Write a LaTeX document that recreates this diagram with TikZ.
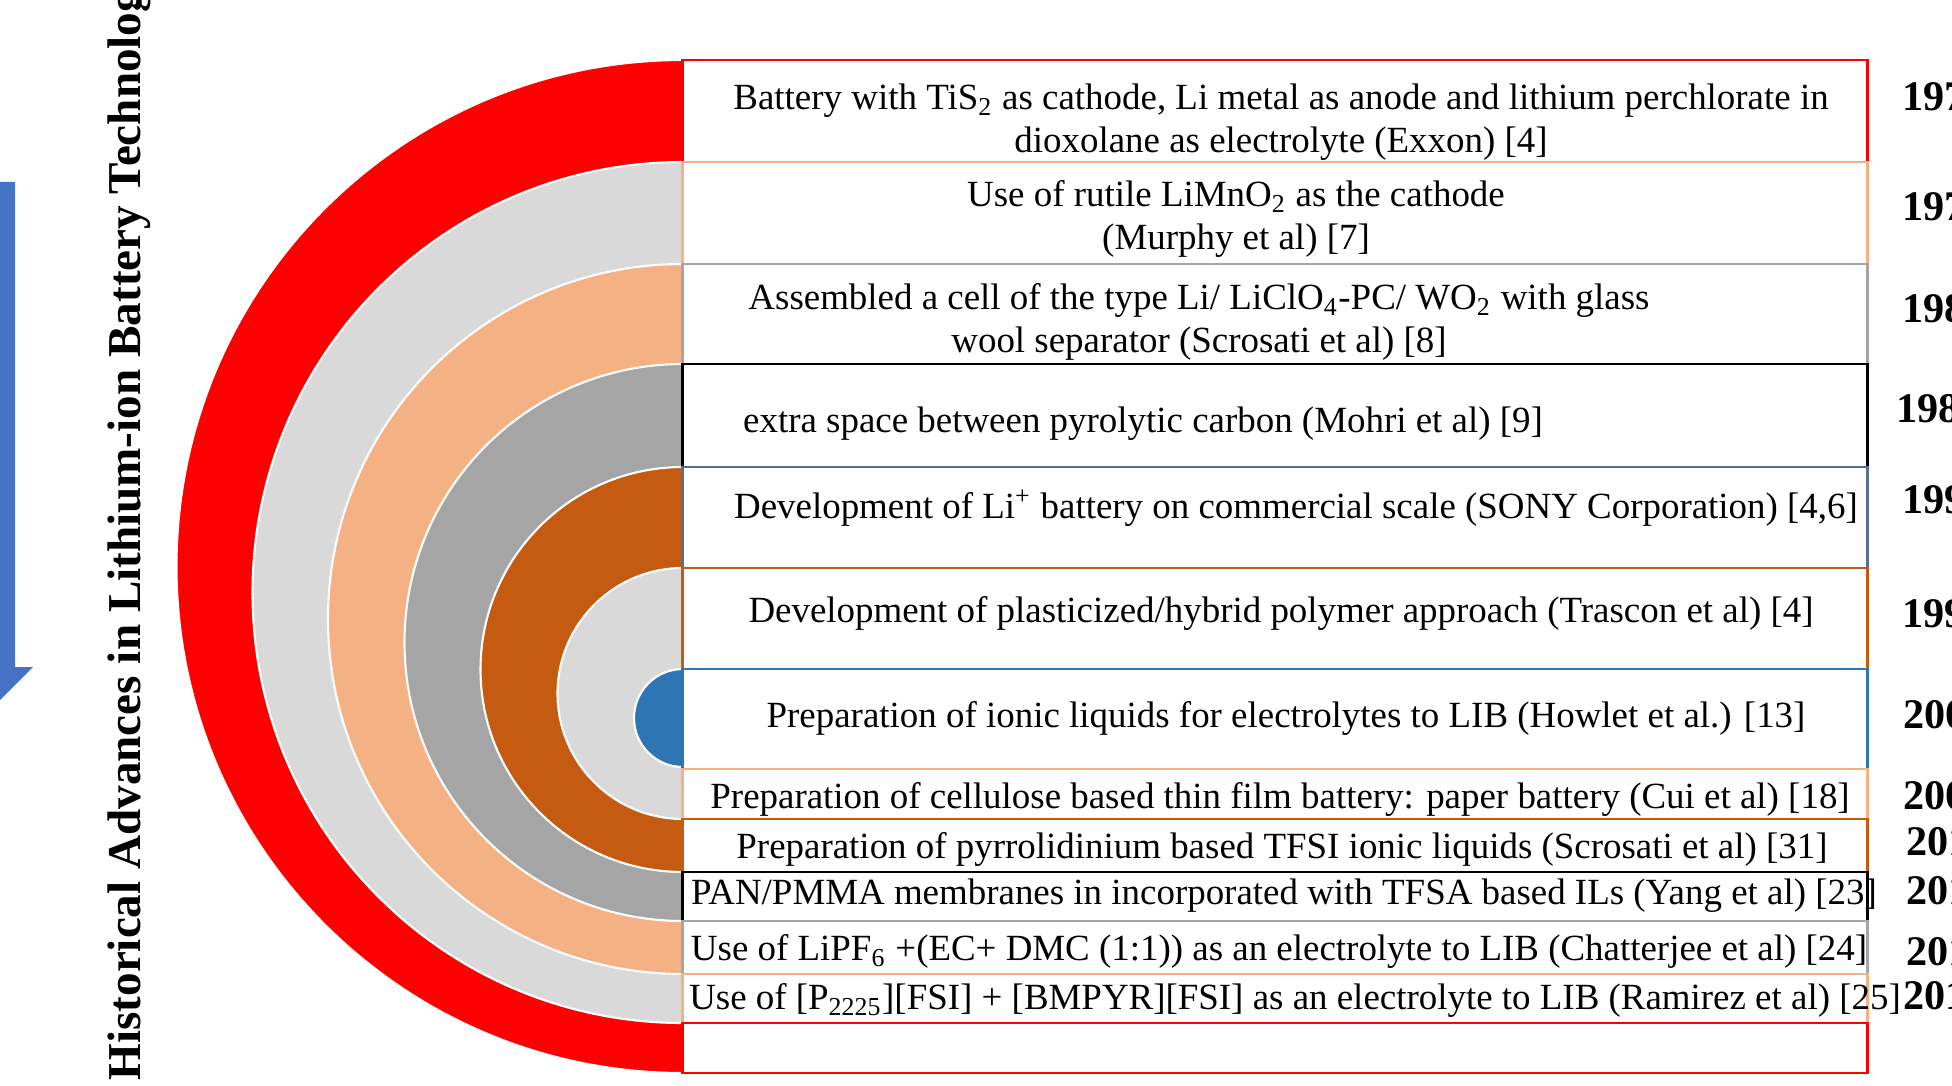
\documentclass[tikz,border=0pt]{standalone}
\usepackage{fontspec}
\setmainfont{Liberation Serif}
\usetikzlibrary{positioning}
\definecolor{bred}{HTML}{FF0000}
\definecolor{blgrey}{HTML}{D9D9D9}
\definecolor{bpeach}{HTML}{F4B183}
\definecolor{bgrey}{HTML}{A5A5A5}
\definecolor{bbrown}{HTML}{C55A11}
\definecolor{bblue}{HTML}{2E75B6}
\definecolor{bslate}{HTML}{5B7090}
\definecolor{barrow}{HTML}{4472C4}
\tikzset{
  band/.style={fill=#1, draw=white, line width=0.6pt},
  cell/.style={draw=#1, line width=0.8pt, minimum width=11.84cm, inner sep=0pt},
  entry/.style={font=\fontsize{10.5pt}{12.2pt}\selectfont, inner sep=0pt, text height=0.7em, text depth=0.22em},
  entrytwo/.style={font=\fontsize{10.5pt}{12.2pt}\selectfont, align=center, inner sep=0pt},
  year/.style={font=\fontsize{12pt}{14pt}\selectfont\bfseries, anchor=west, inner sep=0pt, text height=0.7em, text depth=0.22em},
  heading/.style={font=\fontsize{13.4pt}{15pt}\selectfont\bfseries, rotate=90, anchor=base west, inner sep=0pt},
}

\begin{document}
\begin{tikzpicture}[x=0.01cm, y=-0.01cm]
  \useasboundingbox (0,0) rectangle (1952,1085);
  \clip (0,0) rectangle (1952,1085);

  % time arrow and title
  \fill[barrow] (-60,182) -- (15,182) -- (15,667) -- (33,667) -- (-30,730) -- (-60,730) -- cycle;
  \node[heading] (title) at (140,1081) {Historical Advances in Lithium-ion Battery Technology};

  % half rings
  \foreach \cy/\r/\c in {566.5/506.5/bred, 592.5/430.5/blgrey, 619/355/bpeach, 642.5/278.5/bgrey,
                         669.5/202.5/bbrown, 693.5/125.5/blgrey, 718/49/bblue}
    \draw[band=\c] (683,\cy) ++(0,\r) arc[start angle=90, end angle=270, radius=\r] -- cycle;

  % table rows
  \foreach \t/\b/\c [count=\k] in {60/162/bred, 162/264/bpeach, 264/364/bgrey, 364/467/black,
      467/568/bslate, 568/669/bbrown, 669/769/bblue, 769/819/bpeach, 819/872/bbrown,
      872/921/black, 921/974/bgrey, 974/1023/bpeach, 1023/1073/bred}
    \node[cell=\c, minimum height={(\b-\t)*0.01cm}] (box\k) at (1275,{(\t+\b)/2}) {};

  \node[entrytwo] (e1) at (1281,122) {Battery with TiS\textsubscript{2} as cathode, Li metal as anode and lithium perchlorate in\\ dioxolane as electrolyte (Exxon) [4]};
  \node[entrytwo] (e2) at (1236,219) {Use of rutile LiMnO\textsubscript{2} as the cathode\\ (Murphy et al) [7]};
  \node[entrytwo] (e3) at (1199,322) {Assembled a cell of the type Li/ LiClO\textsubscript{4}-PC/ WO\textsubscript{2} with glass\\ wool separator (Scrosati et al) [8]};
  \node[entry] (e4) at (1143,424) {extra space between pyrolytic carbon (Mohri et al) [9]};
  \node[entry] (e5) at (1296,510) {Development of Li\textsuperscript{+} battery on commercial scale (SONY Corporation) [4,6]};
  \node[entry] (e6) at (1281,614) {Development of plasticized/hybrid polymer approach (Trascon et al) [4]};
  \node[entry] (e7) at (1286,719) {Preparation of ionic liquids for electrolytes to LIB (Howlet et al.) [13]};
  \node[entry] (e8) at (1280,800) {Preparation of cellulose based thin film battery: paper battery (Cui et al) [18]};
  \node[entry] (e9) at (1282,850) {Preparation of pyrrolidinium based TFSI ionic liquids (Scrosati et al) [31]};
  \node[entry] (e10) at (1284,896) {PAN/PMMA membranes in incorporated with TFSA based ILs (Yang et al) [23]};
  \node[entry] (e11) at (1279,952) {Use of LiPF\textsubscript{6} +(EC+ DMC (1:1)) as an electrolyte to LIB (Chatterjee et al) [24]};
  \node[entry] (e12) at (1295,1001) {Use of [P\textsubscript{2225}][FSI] + [BMPYR][FSI] as an electrolyte to LIB (Ramirez et al) [25]};

  % years (cut by the right edge)
  \foreach \x/\y/\v [count=\k] in {1902/102/197, 1902/212/197, 1902/314/198, 1896/414/198,
      1902/505/199, 1902/619/199, 1903/720/200, 1903/801/200, 1906/847/201,
      1906/896/201, 1906/957/201, 1903/1001/201}
    \node[year] (yr\k) at (\x,\y) {\v};
\end{tikzpicture}
\end{document}
